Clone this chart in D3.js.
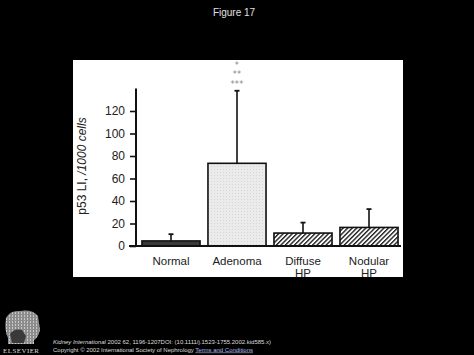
<!DOCTYPE html>
<html><head><meta charset="utf-8">
<script src="https://cdn.jsdelivr.net/npm/d3@7"></script>
<style>html,body{margin:0;padding:0;background:#000;}svg{display:block;}</style>
</head><body>
<svg id="c" width="474" height="355"></svg>
<script>
const categories = ["Normal", "Adenoma", "Diffuse|HP", "Nodular|HP"];
const values = [4.5, 73.5, 11.5, 16.5];
const errorTops = [10.5, 138, 20.8, 32.8];
const yTicks = [0, 20, 40, 60, 80, 100, 120];
const fills = ["url(#dark)", "url(#light)", "url(#hatch)", "url(#hatch)"];

const svg = d3.select("#c");
svg.append("rect").attr("width", 474).attr("height", 355).attr("fill", "#000");

const defs = svg.append("defs");
const dark = defs.append("pattern").attr("id", "dark").attr("patternUnits", "userSpaceOnUse").attr("width", 4).attr("height", 4);
dark.append("rect").attr("width", 4).attr("height", 4).attr("fill", "#3a3a3a");
dark.append("rect").attr("x", 1).attr("y", 1).attr("width", 1).attr("height", 1).attr("fill", "#555");
const light = defs.append("pattern").attr("id", "light").attr("patternUnits", "userSpaceOnUse").attr("width", 3).attr("height", 3);
light.append("rect").attr("width", 3).attr("height", 3).attr("fill", "#ebebeb");
light.append("rect").attr("x", 1).attr("y", 1).attr("width", 1).attr("height", 1).attr("fill", "#d6d6d6");
const hatch = defs.append("pattern").attr("id", "hatch").attr("patternUnits", "userSpaceOnUse").attr("width", 3.2).attr("height", 3.2).attr("patternTransform", "rotate(45)");
hatch.append("rect").attr("width", 3.2).attr("height", 3.2).attr("fill", "#fff");
hatch.append("rect").attr("width", 1.4).attr("height", 3.2).attr("fill", "#222");
const tex = defs.append("pattern").attr("id", "tex").attr("patternUnits", "userSpaceOnUse").attr("width", 3).attr("height", 3);
tex.append("rect").attr("width", 3).attr("height", 3).attr("fill", "#8c8c8c");
tex.append("rect").attr("width", 1).attr("height", 2).attr("fill", "#c8c8c8");

// title
svg.append("text").attr("x", 234).attr("y", 16).attr("text-anchor", "middle")
  .attr("fill", "#e0e0e0").attr("font-family", "Liberation Sans, Arial, sans-serif").attr("font-size", 10).text("Figure 17");

// panel
svg.append("rect").attr("x", 73).attr("y", 60).attr("width", 330).attr("height", 217).attr("fill", "#fff");

const x = d3.scaleBand().domain(categories).range([138, 402]).paddingInner(0.12).paddingOuter(0.06);
const y = d3.scaleLinear().domain([0, 140]).range([246, 88.5]);

const g = svg.append("g");
g.selectAll("rect.bar").data(categories).enter().append("rect")
  .attr("x", d => x(d)).attr("width", x.bandwidth())
  .attr("y", (d, i) => y(values[i])).attr("height", (d, i) => y(0) - y(values[i]))
  .attr("fill", (d, i) => fills[i]).attr("stroke", "#111").attr("stroke-width", 1.6);
g.selectAll("line.err").data(categories).enter().append("line")
  .attr("x1", d => x(d) + x.bandwidth() / 2).attr("x2", d => x(d) + x.bandwidth() / 2)
  .attr("y1", (d, i) => y(values[i])).attr("y2", (d, i) => y(errorTops[i]))
  .attr("stroke", "#111").attr("stroke-width", 1.6);
g.selectAll("line.cap").data(categories).enter().append("line")
  .attr("x1", d => x(d) + x.bandwidth() / 2 - 2.5).attr("x2", d => x(d) + x.bandwidth() / 2 + 2.5)
  .attr("y1", (d, i) => y(errorTops[i])).attr("y2", (d, i) => y(errorTops[i]))
  .attr("stroke", "#111").attr("stroke-width", 1.8);

const yAxis = d3.axisLeft(y).tickValues(yTicks).tickSize(6).tickPadding(5).tickFormat(d3.format("d"));
const ya = svg.append("g").attr("transform", "translate(136,0)").call(yAxis);
ya.select(".domain").remove();
ya.selectAll(".tick line").attr("stroke", "#111").attr("stroke-width", 1.6);
ya.selectAll(".tick text").attr("fill", "#222").attr("font-size", 12).attr("font-family", "Liberation Sans, Arial, sans-serif");
svg.append("line").attr("x1", 136).attr("x2", 136).attr("y1", y(140)).attr("y2", y(0)).attr("stroke", "#111").attr("stroke-width", 2);
svg.append("line").attr("x1", 129).attr("x2", 401).attr("y1", y(0)).attr("y2", y(0)).attr("stroke", "#111").attr("stroke-width", 2);

categories.forEach(c => {
  const lines = c.split("|");
  const t = svg.append("text").attr("text-anchor", "middle").attr("fill", "#222")
    .attr("font-family", "Liberation Sans, Arial, sans-serif").attr("font-size", 11.5);
  lines.forEach((l, i) => t.append("tspan").attr("x", x(c) + x.bandwidth() / 2).attr("y", 264.5 + i * 12.5).text(l));
});

const cx = x("Adenoma") + x.bandwidth() / 2;
["*", "**", "***"].forEach((s, i) => {
  svg.append("text").attr("x", cx).attr("y", 67.5 + i * 9.6).attr("text-anchor", "middle").attr("fill", "#8a8a8a")
    .attr("font-family", "DejaVu Sans, sans-serif").attr("font-size", 8.2).attr("letter-spacing", 0.2).text(s);
});

const yl = svg.append("text").attr("transform", "translate(86,166) rotate(-90)").attr("text-anchor", "middle")
  .attr("fill", "#222").attr("font-family", "Liberation Sans, Arial, sans-serif").attr("font-size", 12);
yl.append("tspan").text("p53 LI, ");
yl.append("tspan").attr("font-style", "italic").text("/1000 cells");

svg.append("rect").attr("x", 60).attr("y", 277).attr("width", 360).attr("height", 20).attr("fill", "#000");

// footer logo
const logo = svg.append("g");
logo.append("path").attr("d", "M6,318 Q10,310 20,311 Q32,309 38,316 L40,330 Q38,338 34,340 L34,344 L8,344 L8,338 Q4,330 6,318 Z").attr("fill", "url(#tex)");
logo.append("path").attr("d", "M10,334 Q14,328 22,330 L26,336 L24,343 L12,343 Z").attr("fill", "#3a3a3a");
logo.append("text").attr("x", 21).attr("y", 353).attr("text-anchor", "middle").attr("fill", "#ddd")
  .attr("font-family", "Liberation Serif, serif").attr("font-size", 7).attr("textLength", 36).text("ELSEVIER");

const f1 = svg.append("text").attr("x", 53).attr("y", 343.5).attr("fill", "#ddd")
  .attr("font-family", "Liberation Sans, Arial, sans-serif").attr("font-size", 6).attr("textLength", 218);
f1.append("tspan").attr("font-style", "italic").text("Kidney International");
f1.append("tspan").text(" 2002 62, 1196-1207DOI: (10.1111/j.1523-1755.2002.kid585.x)");
const f2 = svg.append("text").attr("x", 53).attr("y", 351.5).attr("fill", "#ddd")
  .attr("font-family", "Liberation Sans, Arial, sans-serif").attr("font-size", 6).attr("textLength", 200);
f2.append("tspan").text("Copyright © 2002 International Society of Nephrology ");
f2.append("tspan").attr("fill", "#aab4e6").attr("text-decoration", "underline").text("Terms and Conditions");
</script>
</body></html>
